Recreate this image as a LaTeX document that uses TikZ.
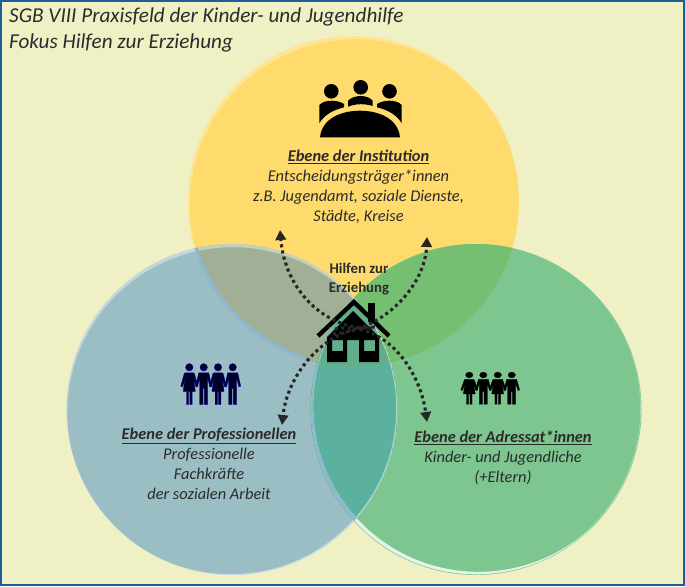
\documentclass[tikz,border=0pt]{standalone}
\usepackage{fontspec}
\setmainfont{Carlito}
\usetikzlibrary{arrows.meta}

\definecolor{grund}{HTML}{EFF1C5}
\definecolor{rahmen}{HTML}{1F5C99}
\definecolor{gelb}{HTML}{FFDA6C}
\definecolor{blaugrau}{HTML}{9BBDC4}
\definecolor{gruen}{HTML}{7DC68F}
\definecolor{gelbblau}{HTML}{A0AF95}
\definecolor{gelbgruen}{HTML}{75BF72}
\definecolor{blaugruen}{HTML}{5CB09E}
\definecolor{mitte}{HTML}{62AE8A}
\definecolor{schrift}{HTML}{2B2B2B}
\definecolor{glasblau}{HTML}{8DB8CF}

\tikzset{
    kreis/.style={radius=165.5},
    innen/.style={radius=164.8},
    sichel/.style={even odd rule, fill=white, fill opacity=#1},
    ebene/.style={font=\fontsize{16.4}{20}\selectfont\itshape, text=schrift, align=center, inner sep=0pt},
    punkte/.style={draw=black!85, line width=3.1pt, dash pattern=on 3.1pt off 3.2pt, -{Triangle[width=10.5pt,length=10pt]}},
    figurblau/.style={fill=black!85!blue, draw=blue!55!black, line width=0.4pt},
    figurgruen/.style={fill=black, draw=black, line width=0.2pt},
    pics/frau/.style={code={
        \path[pic actions] (0,0) circle (3.7);
        \path[pic actions] (-3.5,5.5) -- (3.5,5.5) -- (4.5,12) -- (6,24) -- (2.8,24) -- (2.8,37) -- (0.6,37) -- (0.6,24) -- (-0.6,24) -- (-0.6,37) -- (-2.8,37) -- (-2.8,24) -- (-6,24) -- (-4.5,12) -- cycle;
        \path[pic actions] (-3.5,5.5) -- (-5,6) -- (-8.5,19) -- (-6.8,19.5) -- (-4,11) -- cycle;
        \path[pic actions] (3.5,5.5) -- (5,6) -- (8.5,19) -- (6.8,19.5) -- (4,11) -- cycle;
    }},
    pics/mann/.style={code={
        \path[pic actions] (0,0) circle (3.7);
        \path[pic actions] (-5,5.5) -- (5,5.5) -- (8,19) -- (6.2,19.5) -- (4,11) -- (4,37) -- (0.7,37) -- (0.7,21) -- (-0.7,21) -- (-0.7,37) -- (-4,37) -- (-4,11) -- (-6.2,19.5) -- (-8,19) -- cycle;
    }},
}

\begin{document}
\begin{tikzpicture}[x=1pt, y=-1pt]
    \useasboundingbox (0,0) rectangle (685,586);

    % Hintergrund
    \fill[grund] (0,0) rectangle (685,586);

    \coordinate (mi) at (353.5,201.5);
    \coordinate (ml) at (232,409.5);
    \coordinate (mr) at (476,409.5);

    % Kreise
    \fill[gelb] (mi) circle[kreis];
    \fill[blaugrau] (ml) circle[kreis];
    \fill[gruen] (mr) circle[kreis];

    % Schnittflaechen
    \begin{scope}
        \clip (mi) circle[kreis];
        \fill[gelbblau] (ml) circle[kreis];
        \fill[gelbgruen] (mr) circle[kreis];
    \end{scope}
    \begin{scope}
        \clip (ml) circle[kreis];
        \fill[blaugruen] (mr) circle[kreis];
    \end{scope}
    \begin{scope}
        \clip (mi) circle[kreis];
        \clip (ml) circle[kreis];
        \fill[mitte] (mr) circle[kreis];
    \end{scope}

    % Glanz oben
    \begin{scope}
        \clip (mi) circle[kreis];
        \fill[sichel=0.28] (mi) circle[kreis] ([shift={(1.8,3.2)}]mi) circle[kreis];
    \end{scope}
    \begin{scope}
        \clip (ml) circle[kreis];
        \fill[sichel=0.4] (ml) circle[kreis] ([shift={(0.8,3.2)}]ml) circle[kreis];
        % Glanz unten rechts
        \fill[sichel=0.45] (ml) circle[kreis] ([shift={(-1.3,-0.8)}]ml) circle[kreis];
    \end{scope}
    % Rand des oberen Kreises ueber dem linken
    \begin{scope}
        \clip (ml) circle[kreis];
        \clip (mi) circle[kreis];
        \clip (150,200) rectangle (305,400);
        \fill[even odd rule, glasblau] (mi) circle[kreis] ([shift={(2.4,-2.6)}]mi) circle[kreis];
    \end{scope}
    % Glanz des rechten Kreises
    \begin{scope}
        \clip (mr) circle[innen];
        \fill[sichel=0.8] (mr) circle[kreis] ([shift={(2.6,-3.2)}]mr) circle[kreis];
        \fill[sichel=0.6] (mr) circle[kreis] ([shift={(-1,-0.5)}]mr) circle[kreis];
    \end{scope}
    \begin{scope}
        \clip (ml) circle[kreis];
        \clip (mr) circle[innen];
        \fill[even odd rule, glasblau] (mr) circle[kreis] ([shift={(2.6,-3.2)}]mr) circle[kreis];
    \end{scope}

    % Rahmen
    \draw[rahmen, line width=1.6pt] (0.8,0.8) rectangle (684.2,585.2);

    % Titel
    \node[font=\fontsize{21.2}{25.5}\selectfont\itshape, text=schrift, align=left, anchor=north west, inner sep=0pt] (titel) at (9,8) {SGB VIII Praxisfeld der Kinder- und Jugendhilfe\\Fokus Hilfen zur Erziehung};

    % Texte der Ebenen
    \node[ebene] (institution) at (358.5,187) {\textbf{\underline{Ebene der Institution}}\\Entscheidungsträger*innen\\z.B. Jugendamt, soziale Dienste,\\Städte, Kreise};
    \node[ebene] (professionelle) at (209,464) {\textbf{\underline{Ebene der Professionellen}}\\Professionelle\\Fachkräfte\\der sozialen Arbeit};
    \node[ebene] (adressaten) at (503,458) {\textbf{\underline{Ebene der Adressat*innen}}\\Kinder- und Jugendliche\\(+Eltern)};
    \node[font=\fontsize{14.8}{19.5}\selectfont\bfseries, text=schrift, align=center, inner sep=0pt] (hilfen) at (359,279) {Hilfen zur\\Erziehung};

    % Haus
    \draw[black, line width=4.4pt] (318,336) -- (354,302) -- (389,336);
    \fill[black] (368,303) rectangle (374.5,322);
    \fill[black, even odd rule] (327,337) -- (353,311) -- (379,337) -- (379,362) -- (359,362) -- (359,340) -- (347,340) -- (347,362) -- (327,362) -- cycle
        (332,340) rectangle (343,351) (364,340) rectangle (375,351);

    % Sitzungsgruppe
    \fill[black] (331.3,91.3) circle (7.3);
    \fill[black] (360.7,87.3) circle (7.3);
    \fill[black] (389.5,91.3) circle (7.3);
    \fill[black] (319.3,123.3) -- (319.3,105) .. controls (322,102) and (327,100.7) .. (331.7,100.7) .. controls (336,100.7) and (341,102) .. (344,104) -- (344,107.3) .. controls (333,110) and (324,115) .. cycle;
    \fill[black] (401.7,123.3) -- (401.7,105) .. controls (399,102) and (394,100.7) .. (389.3,100.7) .. controls (385,100.7) and (380,102) .. (377,104) -- (377,107.3) .. controls (388,110) and (397,115) .. cycle;
    \fill[black] (348,106.7) -- (348,100.7) .. controls (351,97.5) and (356,96) .. (360.7,96) .. controls (365,96) and (370,97.5) .. (372.7,100.7) -- (372.7,106) .. controls (365,103.5) and (356,103.5) .. cycle;
    \fill[black] (320,137.3) .. controls (322,118) and (342,110.7) .. (360,110.7) .. controls (378,110.7) and (398,118) .. (400,137.3) -- cycle;

    % Figuren links
    \pic[figurblau] at (189.3,367.3) {frau};
    \pic[figurblau] at (203.7,367.3) {mann};
    \pic[figurblau] at (218,367.3) {frau};
    \pic[figurblau] at (232.7,367.3) {mann};

    % Figuren rechts
    \pic[figurgruen, yscale=0.79] at (469.3,375) {frau};
    \pic[figurgruen, yscale=0.79] at (483.3,375) {mann};
    \pic[figurgruen, yscale=0.79] at (497.7,375) {frau};
    \pic[figurgruen, yscale=0.79] at (511.7,375) {mann};

    % Pfeile
    \coordinate (startol) at (372,328);
    \coordinate (startor) at (333,334);
    \coordinate (startul) at (375,327);
    \coordinate (startur) at (335,329);
    \coordinate (zielol) at (280,230);
    \coordinate (zielor) at (427,237);
    \coordinate (zielul) at (282,425);
    \coordinate (zielur) at (427,422);
    \draw[punkte] (startol) .. controls (325,330) and (285,290) .. (zielol);
    \draw[punkte] (startor) .. controls (385,330) and (425,285) .. (zielor);
    \draw[punkte] (startul) .. controls (330,325) and (288,370) .. (zielul);
    \draw[punkte] (startur) .. controls (385,320) and (420,370) .. (zielur);
\end{tikzpicture}
\end{document}
